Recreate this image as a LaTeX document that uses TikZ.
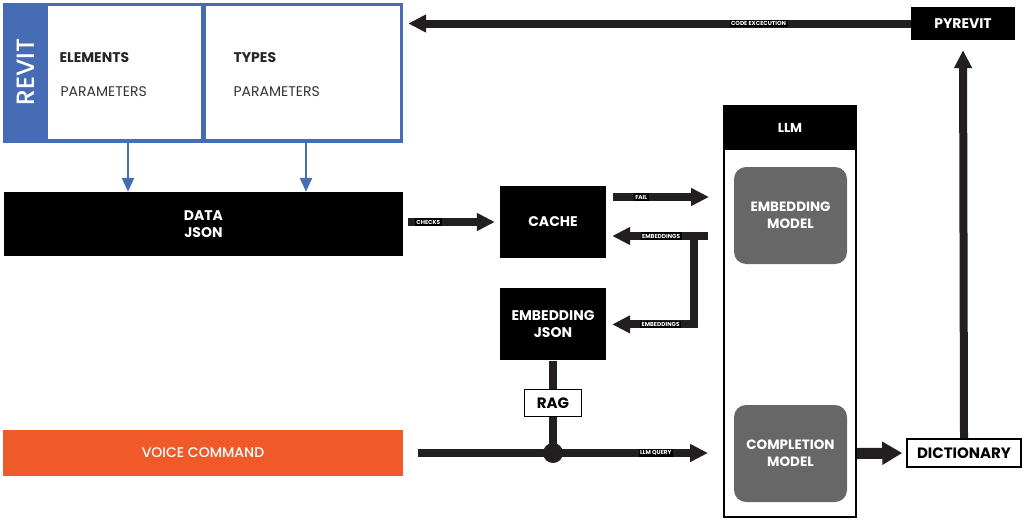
\documentclass[tikz,border=0pt]{standalone}
\usepackage{fontspec}
\setmainfont{Poppins}
\newfontfamily\medfont{Poppins Medium}
\usetikzlibrary{arrows.meta, positioning, calc}
\definecolor{revitblue}{RGB}{71,108,182}
\definecolor{voiceorange}{RGB}{240,90,43}
\definecolor{modelgray}{RGB}{103,103,103}
\definecolor{shaft}{RGB}{35,31,32}

\begin{document}
\begin{tikzpicture}[x=1pt, y=-1pt, >=Latex,
  blk/.style={fill=black, text=white, align=center, inner sep=0pt, font=\fontsize{14}{17}\selectfont\bfseries},
  model/.style={fill=modelgray, text=white, rounded corners=12pt, align=center, minimum width=113pt, minimum height=97pt, font=\fontsize{13.5}{17}\selectfont\bfseries},
  outl/.style={draw, line width=1.5pt, fill=white, inner sep=0pt, font=\fontsize{15}{17}\selectfont\bfseries},
  panel/.style={fill=white, inner sep=0pt},
  head/.style={anchor=west, font=\fontsize{14}{16}\selectfont\bfseries, text=black!85},
  sub/.style={anchor=west, font=\fontsize{14}{16}\selectfont, text=black!80},
  fat/.style={draw=shaft, line width=8pt, -{Triangle[width=17pt,length=18pt]}},
  bar/.style={draw=shaft, line width=8pt},
  bluearr/.style={draw=revitblue, line width=2.5pt, -{Triangle[width=12pt,length=14pt]}},
  tag/.style={fill=black, text=white, inner sep=1.5pt, font=\fontsize{5.8}{6}\selectfont\bfseries}]
\useasboundingbox (0,0) rectangle (1024,522);
\node[fill=revitblue, minimum width=400pt, minimum height=140pt, inner sep=0pt] (revit) at (203,73) {};
\node[panel, minimum width=153pt, minimum height=133pt] (elem) at (124.5,72.5) {};
\node[panel, minimum width=194pt, minimum height=133pt] (types) at (303,72.5) {};
\node[rotate=90, text=white, font=\fontsize{25}{27}\medfont] (revitlbl) at (25.5,72) {REVIT};
\node[head] (elemhead) at (56,58) {ELEMENTS};
\node[sub] (elempar) at (57,92) {PARAMETERS};
\node[head] (typeshead) at (230,58) {TYPES};
\node[sub] (typespar) at (230,92) {PARAMETERS};
\node[blk, minimum width=399pt, minimum height=64pt] (data) at (203.5,224) {DATA\\JSON};
\node[blk, minimum width=106pt, minimum height=72pt] (cache) at (553,222) {CACHE};
\node[blk, below=30pt of cache, minimum width=106pt, minimum height=72pt] (embjson) {EMBEDDING\\JSON};
\node[fill=voiceorange, text=white, minimum width=400pt, minimum height=46pt, font=\fontsize{14}{16}\medfont] (voice) at (203,453) {VOICE COMMAND};
\node[draw, line width=2pt, minimum width=132pt, minimum height=411pt, inner sep=0pt] (llm) at (790,311.5) {};
\node[blk, anchor=north, minimum width=132pt, minimum height=45pt, font=\fontsize{13}{15}\selectfont\bfseries] (llmhead) at (llm.north) {LLM};
\node[model] (embmodel) at (790.5,215.5) {EMBEDDING\\MODEL};
\node[model] (complmodel) at (790.5,453.5) {COMPLETION\\MODEL};
\node[outl, minimum width=114pt, minimum height=28pt] (dict) at (964,453) {DICTIONARY};
\node[blk, minimum width=104pt, minimum height=33pt] (pyrevit) at (963,23.5) {PYREVIT};
\draw[bluearr] ([xshift=3.5pt]elem.south |- revit.south) -- ([xshift=3.5pt]elem.south |- data.north);
\draw[bluearr] ([xshift=3pt]types.south |- revit.south) -- ([xshift=3pt]types.south |- data.north);
\draw[fat, shorten <=5pt, shorten >=5pt] (data.east |- cache.west) -- node[tag, pos=0.26]{CHECKS} (cache.west);
\draw[fat, shorten <=7pt, shorten >=14pt] ([yshift=25pt]cache.east) -- node[tag, pos=0.3]{FAIL} ([yshift=25pt]cache.east -| llm.west);
\coordinate (embin) at (708,236);
\coordinate (embbend) at (694,236);
\draw[fat, shorten >=6pt] (embin) -- node[tag, pos=0.46]{EMBEDDINGS} (embin -| cache.east);
\draw[fat, shorten >=6pt] (embbend) |- node[tag, pos=0.69]{EMBEDDINGS} (embjson.east);
\coordinate (junc) at (embjson.south |- voice.east);
\draw[bar] (embjson.south) -- (junc);
\node[outl, minimum width=57pt, minimum height=27pt] (rag) at ($(embjson.south)!0.457!(junc)$) {RAG};
\fill[shaft] (junc) circle (10pt);
\draw[fat, shorten <=15pt, shorten >=15pt] (voice.east) -- node[tag, pos=0.79]{LLM QUERY} (voice.east -| llm.west);
\draw[fat, line width=11pt, -{Triangle[width=22pt,length=20pt]}, shorten >=4pt] (complmodel.east -| llm.east) -- (dict.west);
\draw[fat, shorten >=10pt] (dict.north) -- (pyrevit.south);
\draw[fat, shorten >=5pt] (pyrevit.west) -- node[tag, pos=0.3]{CODE EXCECUTION} (pyrevit.west -| revit.east);
\end{tikzpicture}
\end{document}
